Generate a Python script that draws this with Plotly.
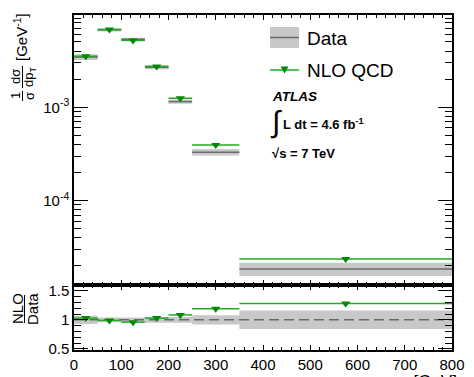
import plotly.graph_objects as go

# ---------------- data ----------------
bin_edges = [0, 50, 100, 150, 200, 250, 350, 800]
bin_centers = [25, 75, 125, 175, 225, 300, 575]
data_vals = [3.45e-3, 6.75e-3, 5.35e-3, 2.68e-3, 1.15e-3, 3.3e-4, 1.86e-5]
data_rel_unc = [0.07, 0.04, 0.04, 0.05, 0.05, 0.08, 0.16]
nlo_vals = [3.52e-3, 6.8e-3, 5.2e-3, 2.74e-3, 1.25e-3, 3.95e-4, 2.37e-5]
ratio_vals = [1.03, 0.99, 0.96, 1.03, 1.085, 1.19, 1.28]
x_tick_vals = [0, 100, 200, 300, 400, 500, 600, 700, 800]
y_main_tickvals = [1e-4, 1e-3]
y_main_ticktext = ["10<sup>-4</sup>", "10<sup>-3</sup>"]
y_ratio_tickvals = [0.5, 1, 1.5]
y_ratio_ticktext = ["0.5", "1", "1.5"]

BAND = "#c8c8c8"
DATA_LINE = "#6a6a6a"
GREEN_LINE = "#22aa22"
GREEN_MARK = "#008800"
FONT = "Liberation Sans, Arial, Helvetica, sans-serif"

# page offset of the figure in the screenshot
OFFX, OFFY = 5, 8
W, H = 474 - OFFX, 377 - OFFY
# plot frame in screen pixels
L, R, T, B = 71, 449, 15, 350


def fx(px):
    return (px - L) / (R - L)


def fy(py):
    return (B - py) / (B - T)


def seg_xy(lo_list, hi_list=None):
    xs, ys = [], []
    for i in range(len(bin_centers)):
        e0, e1 = bin_edges[i], bin_edges[i + 1]
        if hi_list is None:
            xs += [e0, e1, None]
            ys += [lo_list[i], lo_list[i], None]
        else:
            xs += [e0, e1, e1, e0, e0, None]
            ys += [lo_list[i], lo_list[i], hi_list[i], hi_list[i], lo_list[i], None]
    return xs, ys


fig = go.Figure()

# upper panel: data band
lo = [d * (1 - u) for d, u in zip(data_vals, data_rel_unc)]
hi = [d * (1 + u) for d, u in zip(data_vals, data_rel_unc)]
bx, by = seg_xy(lo, hi)
fig.add_trace(go.Scatter(x=bx, y=by, fill="toself", fillcolor=BAND, mode="lines",
                         line=dict(width=0, color=BAND), xaxis="x", yaxis="y",
                         showlegend=False, hoverinfo="skip"))
dx, dy = seg_xy(data_vals)
fig.add_trace(go.Scatter(x=dx, y=dy, mode="lines", line=dict(color=DATA_LINE, width=1.5),
                         xaxis="x", yaxis="y", showlegend=False))
nx, ny = seg_xy(nlo_vals)
fig.add_trace(go.Scatter(x=nx, y=ny, mode="lines", line=dict(color=GREEN_LINE, width=1.5),
                         xaxis="x", yaxis="y", showlegend=False))
fig.add_trace(go.Scatter(x=bin_centers, y=nlo_vals, mode="markers",
                         marker=dict(symbol="triangle-down", size=8, color=GREEN_MARK),
                         xaxis="x", yaxis="y", showlegend=False))

# lower panel: ratio
rlo = [1 - u for u in data_rel_unc]
rhi = [1 + u for u in data_rel_unc]
rbx, rby = seg_xy(rlo, rhi)
fig.add_trace(go.Scatter(x=rbx, y=rby, fill="toself", fillcolor=BAND, mode="lines",
                         line=dict(width=0, color=BAND), xaxis="x2", yaxis="y2",
                         showlegend=False, hoverinfo="skip"))
fig.add_trace(go.Scatter(x=[bin_edges[0], bin_edges[-1]], y=[1, 1], mode="lines",
                         line=dict(color=DATA_LINE, width=1.5, dash="10px,5px"),
                         xaxis="x2", yaxis="y2", showlegend=False))
rx, ry = seg_xy(ratio_vals)
fig.add_trace(go.Scatter(x=rx, y=ry, mode="lines", line=dict(color=GREEN_LINE, width=1.5),
                         xaxis="x2", yaxis="y2", showlegend=False))
fig.add_trace(go.Scatter(x=bin_centers, y=ratio_vals, mode="markers",
                         marker=dict(symbol="triangle-down", size=8, color=GREEN_MARK),
                         xaxis="x2", yaxis="y2", showlegend=False))

split = fy(285)

common_axis = dict(showline=True, linecolor="black", linewidth=1.5, mirror="ticks",
                   ticks="inside", tickcolor="black", tickwidth=1, showgrid=False,
                   zeroline=False, tickfont=dict(family=FONT, size=15, color="black"))

minor_log = [m * 10 ** e for e in (-5, -4, -3) for m in range(2, 10)]

fig.update_layout(
    width=W, height=H,
    margin=dict(l=L - OFFX, r=W - (R - OFFX), t=T - OFFY, b=H - (B - OFFY), autoexpand=False),
    paper_bgcolor="white", plot_bgcolor="white",
    font=dict(family=FONT, color="black"),
    xaxis=dict(domain=[0, 1], range=[0, 800], anchor="y", tickvals=x_tick_vals,
               showticklabels=False, ticklen=5,
               minor=dict(ticks="inside", ticklen=3, dtick=20, tick0=0, tickcolor="black"),
               **common_axis),
    yaxis=dict(domain=[split, 1], type="log", range=[-4.903, -2.012], anchor="x",
               tickvals=y_main_tickvals, ticktext=y_main_ticktext, ticklen=14,
               minor=dict(ticks="inside", ticklen=7, tickvals=minor_log, tickcolor="black"),
               **common_axis),
    xaxis2=dict(domain=[0, 1], range=[0, 800], anchor="y2", tickvals=x_tick_vals,
                ticklen=5,
                minor=dict(ticks="inside", ticklen=3, dtick=20, tick0=0, tickcolor="black"),
                **common_axis),
    yaxis2=dict(domain=[0, split], range=[0.48, 1.6], anchor="x2",
                tickvals=y_ratio_tickvals, ticktext=y_ratio_ticktext, ticklen=14,
                minor=dict(ticks="inside", ticklen=7, dtick=0.1, tick0=0, tickcolor="black"),
                **common_axis),
)

ann = []
shapes = []


def text(px, py, s, size, xanchor="center", angle=0, color="black"):
    ann.append(dict(x=fx(px), y=fy(py), xref="paper", yref="paper", text=s,
                    showarrow=False, xanchor=xanchor, yanchor="middle", textangle=angle,
                    font=dict(family=FONT, size=size, color=color)))


# upper y title
text(17, 37, "[GeV<sup>-1</sup>]", 15, angle=-90)
text(12, 77, "dσ", 13, angle=-90)
text(26, 77, "dp<sub>T</sub>", 13, angle=-90)
text(12, 96, "1", 13, angle=-90)
text(26, 96, "σ", 13, angle=-90)
shapes.append(dict(type="line", xref="paper", yref="paper", x0=fx(19.5), x1=fx(19.5),
                   y0=fy(66), y1=fy(88), line=dict(color="black", width=1)))
shapes.append(dict(type="line", xref="paper", yref="paper", x0=fx(19.5), x1=fx(19.5),
                   y0=fy(91), y1=fy(101), line=dict(color="black", width=1)))

# lower y title
text(14, 309, "NLO", 15, angle=-90)
text(29, 309, "Data", 15, angle=-90)
shapes.append(dict(type="line", xref="paper", yref="paper", x0=fx(21.5), x1=fx(21.5),
                   y0=fy(295), y1=fy(323), line=dict(color="black", width=1)))

# x title (cut by the bottom edge)
ann.append(dict(x=fx(456), y=fy(370), xref="paper", yref="paper",
                text="p<sub>T</sub> [GeV]", showarrow=False, xanchor="right",
                yanchor="top", font=dict(family=FONT, size=17, color="black")))

# legend
shapes.append(dict(type="rect", xref="paper", yref="paper", x0=fx(267), x1=fx(296),
                   y0=fy(48), y1=fy(27), fillcolor=BAND, line=dict(width=0)))
shapes.append(dict(type="line", xref="paper", yref="paper", x0=fx(267), x1=fx(296),
                   y0=fy(37.5), y1=fy(37.5), line=dict(color=DATA_LINE, width=1.5)))
text(302, 39, "Data", 19, xanchor="left")
shapes.append(dict(type="line", xref="paper", yref="paper", x0=fx(267), x1=fx(296),
                   y0=fy(70), y1=fy(70), line=dict(color=GREEN_LINE, width=1.5)))
tx, ty = 281.5, 70
shapes.append(dict(type="path", xref="paper", yref="paper",
                   path=f"M {fx(tx-4)},{fy(ty-3.5)} L {fx(tx+4)},{fy(ty-3.5)} L {fx(tx)},{fy(ty+3.5)} Z",
                   fillcolor=GREEN_MARK, line=dict(width=0)))
text(302, 70, "NLO QCD", 19, xanchor="left")

# ATLAS label
text(267, 96, "<b><i>ATLAS</i></b>", 13.5, xanchor="left")
text(265, 122, "∫", 30, xanchor="left")
text(278, 124, "<b>L dt = 4.6 fb<sup>-1</sup></b>", 13, xanchor="left")
text(267, 153, "<b>√s = 7 TeV</b>", 13, xanchor="left")

fig.update_layout(annotations=ann, shapes=shapes)

fig.write_html("out.html")
